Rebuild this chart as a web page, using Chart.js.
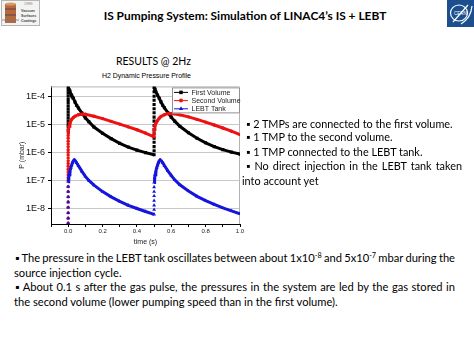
<!DOCTYPE html>
<html><head><meta charset="utf-8">
<script src="https://cdn.jsdelivr.net/npm/chart.js@4.4.1/dist/chart.umd.min.js"></script>
<style>
html,body{margin:0;padding:0;background:#fff;width:474px;height:355px;overflow:hidden;}
body{position:relative;font-family:Lato,'Open Sans',sans-serif;color:#000;}
.abs{position:absolute;white-space:nowrap;}
.ln{position:absolute;line-height:14px;font-size:11px;white-space:nowrap;}
sup{font-size:65%;line-height:0;vertical-align:4px;}
#chartBox{position:absolute;left:10px;top:78px;width:240px;height:172px;}
</style></head>
<body>
<!-- left logo -->
<svg class="abs" style="left:1px;top:0px" width="39" height="26">
  <rect x="0.5" y="0.5" width="38" height="25" fill="#f3f3f3" stroke="#b5b5b5"/>
  <rect x="4" y="4" width="11" height="19" fill="#b8693a"/>
  <ellipse cx="9.5" cy="4" rx="5.5" ry="1.6" fill="#d99a6a"/>
  <line x1="4" y1="9" x2="15" y2="9" stroke="#3a3a6a" stroke-width="0.8"/>
  <line x1="4" y1="15" x2="15" y2="15" stroke="#3a3a6a" stroke-width="0.8"/>
  <line x1="1" y1="20" x2="18" y2="20" stroke="#5a7ab0" stroke-width="0.8"/>
  <text x="23" y="5" font-size="3" fill="#888" font-family="Liberation Sans">CERN</text>
  <text x="20" y="12" font-size="3.6" font-weight="bold" fill="#444" font-family="Liberation Sans">Vacuum</text>
  <text x="20" y="17" font-size="3.6" font-weight="bold" fill="#444" font-family="Liberation Sans">Surfaces</text>
  <text x="20" y="22" font-size="3.6" font-weight="bold" fill="#444" font-family="Liberation Sans">Coatings</text>
</svg>
<!-- right logo -->
<svg class="abs" style="left:447px;top:0px" width="27" height="27">
  <rect x="0" y="0" width="27" height="27" fill="#1d4f8f"/>
  <ellipse cx="12" cy="13" rx="8.5" ry="8" fill="none" stroke="#fff" stroke-width="1.2"/>
  <path d="M6 22 L21 5" stroke="#fff" stroke-width="1.2"/>
  <path d="M14 24 Q24 18 25 6" fill="none" stroke="#fff" stroke-width="1.2"/>
  <text x="7" y="15" font-size="4.5" fill="#fff" font-family="Liberation Sans">CERN</text>
</svg>

<div id="title" class="abs" style="top:8px;line-height:16px;font-weight:bold;font-size:13px;" data-fit="283" data-cx="245">IS Pumping System: Simulation of LINAC4’s IS + LEBT</div>
<div id="results" class="abs" style="left:116px;top:53px;line-height:16px;font-size:12px;" data-fit="75">RESULTS @ 2Hz</div>
<div id="subtitle" class="abs" style="left:102px;top:71px;line-height:10px;font-size:7px;font-family:'Liberation Sans',Arial,sans-serif;" data-fit="89">H2 Dynamic Pressure Profile</div>

<div id="chartBox"><canvas id="c" width="240" height="172"></canvas></div>

<div id="rightRef" class="ln side" style="left:246px;top:117px;">▪ 2 TMPs are connected to the first volume.</div>
<div class="ln side" style="left:246px;top:130.3px;">▪ 1 TMP to the second volume.</div>
<div class="ln side" style="left:246px;top:144.7px;">▪ 1 TMP connected to the LEBT tank.</div>
<div class="ln side jl" data-w="216" style="left:246px;top:158.7px;">▪ No direct injection in the LEBT tank taken</div>
<div class="ln side" style="left:242px;top:173.7px;">into account yet</div>

<div class="ln body jl" data-w="440" style="left:15px;top:251.3px;">▪ The pressure in the LEBT tank oscillates between about 1x10<sup>-8</sup> and 5x10<sup>-7</sup> mbar during the</div>
<div class="ln body" style="left:14px;top:266.3px;">source injection cycle.</div>
<div class="ln body jl" data-w="440" style="left:15px;top:280.3px;">▪ About 0.1 s after the gas pulse, the pressures in the system are led by the gas stored in</div>
<div id="refLine" class="ln body" style="left:14px;top:294.7px;">the second volume (lower pumping speed than in the first volume).</div>

<script>
// ---------- data ----------
const timeFirst = [
  0,0,0,0,0,0,0,0,0,0,0,0,0,0,0,
  0.005,0.01,0.02,0.03,0.04,0.05,0.06,0.08,0.10,0.12,0.15,0.20,0.25,0.30,0.35,0.40,0.45,0.50,
  0.5,0.5,0.5,0.5,0.5,0.5,0.5,0.5,0.5,0.5,0.5,0.5,0.5,0.5,0.5,0.5,
  0.505,0.51,0.52,0.53,0.54,0.55,0.56,0.58,0.60,0.62,0.65,0.70,0.75,0.80,0.85,0.90,0.95,1.00];
const firstVolume = [
  6e-6,8e-6,1e-5,1.3e-5,1.7e-5,2.2e-5,2.8e-5,3.6e-5,4.6e-5,6e-5,7.7e-5,1e-4,1.3e-4,1.65e-4,2.1e-4,
  1.75e-4,1.45e-4,1.1e-4,8.5e-5,6.2e-5,4.7e-5,3.8e-5,2.5e-5,1.7e-5,1.25e-5,8e-6,4.8e-6,3.1e-6,2.1e-6,1.55e-6,1.2e-6,9.8e-7,8.2e-7,
  1.15e-6,1.6e-6,2.3e-6,3.2e-6,4.6e-6,6.5e-6,9.1e-6,1.3e-5,1.8e-5,2.6e-5,3.6e-5,5.1e-5,7.2e-5,1.0e-4,1.45e-4,2.05e-4,
  1.75e-4,1.45e-4,1.1e-4,8.5e-5,6.3e-5,4.8e-5,3.9e-5,2.6e-5,1.8e-5,1.3e-5,8.5e-6,5e-6,3.2e-6,2.2e-6,1.6e-6,1.25e-6,1.02e-6,8.7e-7];

const timeSecond = [
  0,0,0,0,0,0,0,0, 0,0,0,0,0,0,0,0,0,0,0,0,0,0,0,0,0,0,
  0.002,0.005,0.01,0.02,0.03,0.04,0.06,0.08,0.10,0.15,0.20,0.25,0.30,0.35,0.40,0.45,0.50,
  0.5,0.5,0.5,
  0.505,0.51,0.52,0.53,0.54,0.56,0.58,0.60,0.65,0.70,0.75,0.80,0.85,0.90,0.95,1.00];
const secondVolume = [
  3e-9,4.5e-9,7e-9,1.1e-8,1.7e-8,2.6e-8,4e-8,6e-8,
  1.0e-7,1.25e-7,1.6e-7,2e-7,2.5e-7,3.2e-7,4e-7,5e-7,6.3e-7,8e-7,1e-6,1.25e-6,1.6e-6,2e-6,2.5e-6,3.2e-6,4e-6,5e-6,
  6.5e-6,8.5e-6,1.1e-5,1.5e-5,1.75e-5,1.95e-5,2.2e-5,2.3e-5,2.3e-5,1.95e-5,1.6e-5,1.28e-5,1.02e-5,8.1e-6,6.4e-6,4.9e-6,3.6e-6,
  4.4e-6,5.4e-6,6.6e-6,
  9e-6,1.1e-5,1.35e-5,1.65e-5,1.9e-5,2.2e-5,2.4e-5,2.45e-5,2.2e-5,1.85e-5,1.5e-5,1.2e-5,9.5e-6,7.4e-6,5.7e-6,4.3e-6];

const timeLebt = [
  0,0,0,0,0,0,0,0,0,
  0.003,0.006,0.01,0.015,0.02,0.025,0.03,0.035,0.04,0.05,0.06,0.08,0.10,0.12,0.15,0.20,0.25,0.30,0.35,0.40,0.45,0.50,
  0.5,0.5,0.5,0.5,0.5,0.5,0.5,
  0.503,0.506,0.51,0.515,0.52,0.525,0.53,0.535,0.54,0.55,0.56,0.58,0.60,0.62,0.65,0.70,0.75,0.80,0.85,0.90,0.95,1.00];
const lebtTank = [
  3e-9,4.5e-9,7e-9,1.1e-8,1.7e-8,2.6e-8,4e-8,6e-8,9e-8,
  1.2e-7,1.6e-7,2.1e-7,2.8e-7,3.5e-7,4.3e-7,5e-7,5.4e-7,5.2e-7,4.2e-7,3.3e-7,2.1e-7,1.4e-7,1.0e-7,6.8e-8,4.0e-8,2.6e-8,1.8e-8,1.3e-8,1.0e-8,7.8e-9,6.2e-9,
  9e-9,1.3e-8,1.9e-8,2.8e-8,4e-8,5.8e-8,8.5e-8,
  1.2e-7,1.6e-7,2.1e-7,2.8e-7,3.5e-7,4.3e-7,5e-7,5.4e-7,5.2e-7,4.3e-7,3.4e-7,2.2e-7,1.5e-7,1.05e-7,7e-8,4.2e-8,2.7e-8,1.9e-8,1.4e-8,1.05e-8,8.2e-9,6.5e-9];

const seriesNames = ['First Volume', 'Second Volume', 'LEBT Tank'];
const yTickValues = [1e-8, 1e-7, 1e-6, 1e-5, 1e-4];
const yTickLabels = ['1E-8', '1E-7', '1E-6', '1E-5', '1E-4'];
const xTickValues = [-0.1, 0, 0.1, 0.2, 0.3, 0.4, 0.5, 0.6, 0.7, 0.8, 0.9, 1.0];
const xTickLabels = ['', '0.0', '', '0.2', '', '0.4', '', '0.6', '', '0.8', '', '1.0'];

// ---------- text fitting ----------
function fitTo(el, target) {
  const w = el.getBoundingClientRect().width;
  const fs = parseFloat(getComputedStyle(el).fontSize);
  el.style.fontSize = (fs * target / w) + 'px';
}
function applySize(refId, target, cls) {
  const ref = document.getElementById(refId);
  fitTo(ref, target);
  const size = getComputedStyle(ref).fontSize;
  document.querySelectorAll('.' + cls).forEach(e => { e.style.fontSize = size; });
}
applySize('refLine', 324, 'body');
applySize('rightRef', 207, 'side');
document.querySelectorAll('.jl').forEach(e => {
  e.style.wordSpacing = '0px';
  const w = e.getBoundingClientRect().width;
  const n = (e.textContent.match(/ /g) || []).length;
  e.style.wordSpacing = ((parseFloat(e.dataset.w) - w) / n) + 'px';
});
['title', 'results', 'subtitle'].forEach(id => {
  const el = document.getElementById(id);
  fitTo(el, parseFloat(el.dataset.fit));
  if (el.dataset.cx) {
    const w = el.getBoundingClientRect().width;
    el.style.left = (parseFloat(el.dataset.cx) - w / 2) + 'px';
  }
});

// ---------- chart ----------
const AX_FONT = 'Liberation Sans';
const toPts = (ts, vs) => ts.map((t, i) => ({x: t, y: vs[i]}));
const hideVertical = {
  borderColor: ctx => (ctx.p0.parsed.x === ctx.p1.parsed.x ? 'rgba(0,0,0,0)' : undefined)
};
const colors = ['#000000', '#ee1111', '#1515dd'];
const styles = ['rect', 'circle', 'triangle'];
const radii = [2.2, 1.7, 2.2];
const seriesT = [timeFirst, timeSecond, timeLebt];
const seriesV = [firstVolume, secondVolume, lebtTank];

const datasets = seriesNames.map((name, i) => ({
  label: name,
  data: toPts(seriesT[i], seriesV[i]),
  borderColor: colors[i],
  backgroundColor: colors[i],
  pointBackgroundColor: colors[i],
  pointBorderWidth: 0,
  pointStyle: styles[i],
  pointRadius: radii[i],
  borderWidth: 3,
  order: 3 - i,
  segment: hideVertical
}));

const framePlugin = {
  id: 'frame',
  beforeDatasetsDraw(chart) {
    const {ctx, chartArea: a} = chart;
    ctx.save();
    ctx.strokeStyle = '#b4b4b4';
    ctx.lineWidth = 1;
    ctx.beginPath();
    ctx.moveTo(a.left, a.top + 0.5); ctx.lineTo(a.right - 0.5, a.top + 0.5); ctx.lineTo(a.right - 0.5, a.bottom);
    ctx.stroke();
    ctx.restore();
  }
};

const legendPlugin = {
  id: 'innerLegend',
  afterDraw(chart) {
    const {ctx, chartArea: a} = chart;
    const w = 68, h = 26;
    const x0 = a.right - w, y0 = a.top + 1;
    ctx.save();
    ctx.fillStyle = '#fff';
    ctx.fillRect(x0, y0, w, h);
    ctx.strokeStyle = '#777';
    ctx.lineWidth = 0.8;
    ctx.strokeRect(x0 + 0.5, y0 + 0.5, w - 1, h - 1);
    chart.data.datasets.forEach((ds, i) => {
      const cy = y0 + 5 + i * 8.2;
      ctx.strokeStyle = ds.borderColor;
      ctx.lineWidth = 1;
      ctx.beginPath(); ctx.moveTo(x0 + 2, cy); ctx.lineTo(x0 + 16, cy); ctx.stroke();
      ctx.fillStyle = ds.borderColor;
      Chart.helpers.drawPoint(ctx, {pointStyle: ds.pointStyle, radius: ds.pointRadius + 0.3, rotation: 0, borderWidth: 0}, x0 + 9, cy);
      ctx.fillStyle = '#222';
      ctx.font = '7px "' + AX_FONT + '"';
      ctx.textBaseline = 'middle';
      ctx.textAlign = 'left';
      ctx.fillText(ds.label, x0 + 19.5, cy + 0.3);
    });
    ctx.restore();
  }
};

new Chart(document.getElementById('c'), {
  type: 'line',
  data: {datasets},
  plugins: [framePlugin, legendPlugin],
  options: {
    responsive: false,
    animation: false,
    parsing: false,
    layout: {padding: {top: 7, right: 10, left: 0, bottom: 0}},
    plugins: {legend: {display: false}, tooltip: {enabled: false}, title: {display: false}},
    scales: {
      x: {
        type: 'linear', min: -0.1, max: 1.0,
        afterBuildTicks: s => { s.ticks = xTickValues.map(v => ({value: v})); },
        afterFit: s => { s.height = 26; },
        grid: {drawOnChartArea: false, drawTicks: true, tickLength: 3, tickColor: '#000'},
        border: {color: '#000', width: 1},
        ticks: {autoSkip: false, maxRotation: 0, padding: 1, color: '#222',
                font: {family: AX_FONT, size: 6}, callback: (v, i) => xTickLabels[i]},
        title: {display: true, text: 'time (s)', color: '#222', font: {family: AX_FONT, size: 7},
                padding: {top: 0, bottom: 3.5}}
      },
      y: {
        type: 'logarithmic', min: 2.8e-9, max: 2.25e-4,
        afterBuildTicks: s => { s.ticks = yTickValues.map(v => ({value: v})); },
        afterFit: s => { s.width = 41; },
        grid: {color: '#c8c8c8', lineWidth: 1, tickColor: '#000', tickLength: 3},
        border: {color: '#000', width: 1},
        ticks: {autoSkip: false, padding: 3, color: '#111',
                font: {family: AX_FONT, size: 9}, callback: (v, i) => yTickLabels[i]},
        title: {display: true, text: 'P (mbar)', color: '#222', font: {family: AX_FONT, size: 7},
                padding: {top: 7.5, bottom: 0}}
      }
    }
  }
});
</script>
</body></html>
